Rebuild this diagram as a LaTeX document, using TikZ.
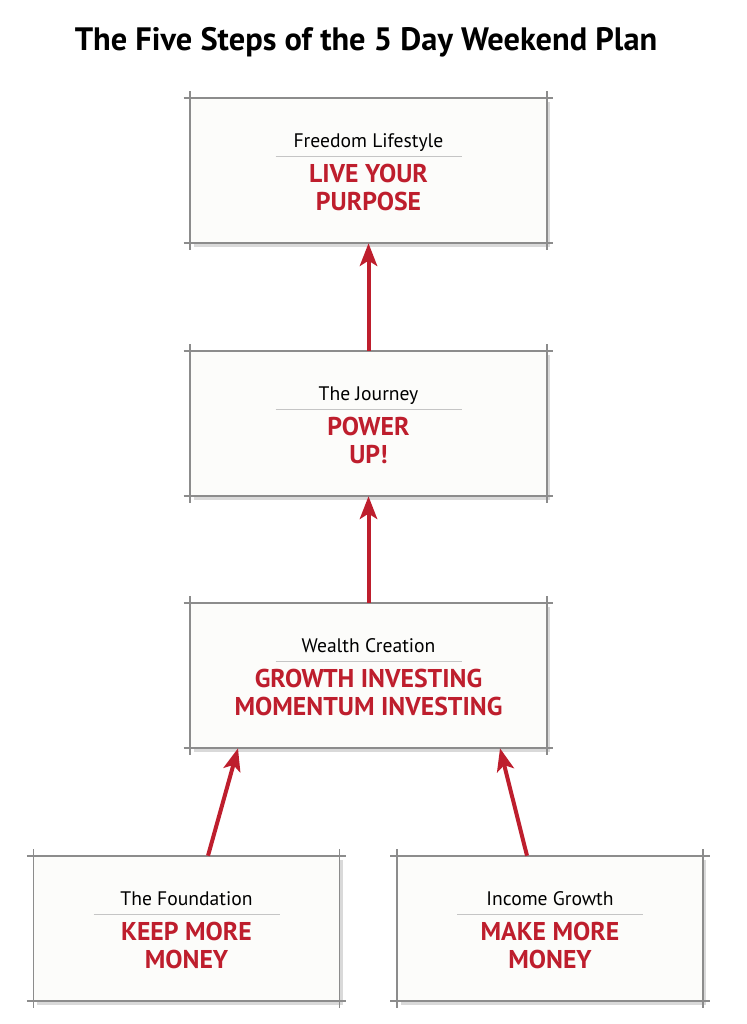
\documentclass[tikz,border=0pt]{standalone}
\usepackage{fontspec}
\setmainfont{PT Sans}
\usetikzlibrary{positioning,calc,arrows.meta,shadows}
\definecolor{stepred}{HTML}{BE1E2D}
\definecolor{paper}{HTML}{FCFCFA}
\definecolor{pencil}{HTML}{8C8C8C}
\begin{document}
\begin{tikzpicture}
  [x=0.75pt, y=-0.75pt,
  stepbox/.style={fill=paper, minimum height=108.75pt, inner sep=0pt,
    drop shadow={shadow xshift=2.5pt, shadow yshift=-3pt, opacity=0.15, fill=black}},
  wide/.style={stepbox, minimum width=267pt},
  narrow/.style={stepbox, minimum width=229pt},
  steptitle/.style={anchor=base, inner sep=0pt, font=\fontsize{14.7}{17}\selectfont},
  stepgoal/.style={align=center, inner sep=0pt, text=stepred, font=\fontsize{19.3}{21}\selectfont\bfseries},
  pencil line/.style={draw=pencil, line width=1.2pt, shorten <=-5pt, shorten >=-5pt},
  divider/.style={draw=pencil!50, line width=0.6pt},
  up/.style={draw=stepred, line width=3pt, -{Stealth[length=17pt, width=13pt, inset=4pt]}}]
  \useasboundingbox (0,0) rectangle (746,1024);
  \node[font=\fontsize{24.3}{28}\selectfont\bfseries] (title) at (366,42) {The Five Steps of the 5 Day Weekend Plan};
  \node[wide] (life) at (368.5,170.5) {};
  \node[wide] (journey) at (368.5,423.5) {};
  \node[wide] (wealth) at (368.5,675.5) {};
  \node[narrow] (found) at (186.5,928.5) {};
  \node[narrow] (income) at (550,928.5) {};
  \foreach \n/\t/\g in {life/Freedom Lifestyle/{LIVE YOUR\\PURPOSE},
    journey/The Journey/{POWER\\UP!},
    wealth/Wealth Creation/{GROWTH INVESTING\\MOMENTUM INVESTING},
    found/The Foundation/{KEEP MORE\\MONEY},
    income/Income Growth/{MAKE MORE\\MONEY}} {
    \node[steptitle] (\n-title) at ($(\n.center)+(0,-23.5)$) {\t};
    \draw[divider] ($(\n.center)+(-93,-14.5)$) -- ($(\n.center)+(93,-14.5)$);
    \node[stepgoal] (\n-goal) at ($(\n.center)+(0,17)$) {\g};
    \draw[pencil line] (\n.north west) -- (\n.north east);
    \draw[pencil line] (\n.south west) -- (\n.south east);
    \draw[pencil line] (\n.north west) -- (\n.south west);
    \draw[pencil line] (\n.north east) -- (\n.south east);
  }
  \draw[up] (journey.north) -- (life.south);
  \draw[up] (wealth.north) -- (journey.south);
  \draw[up] ($(found.north)+(21.5,0)$) -- ($(wealth.south)+(-130.5,0)$);
  \draw[up] ($(income.north)+(-23,0)$) -- ($(wealth.south)+(131.5,0)$);
\end{tikzpicture}
\end{document}
